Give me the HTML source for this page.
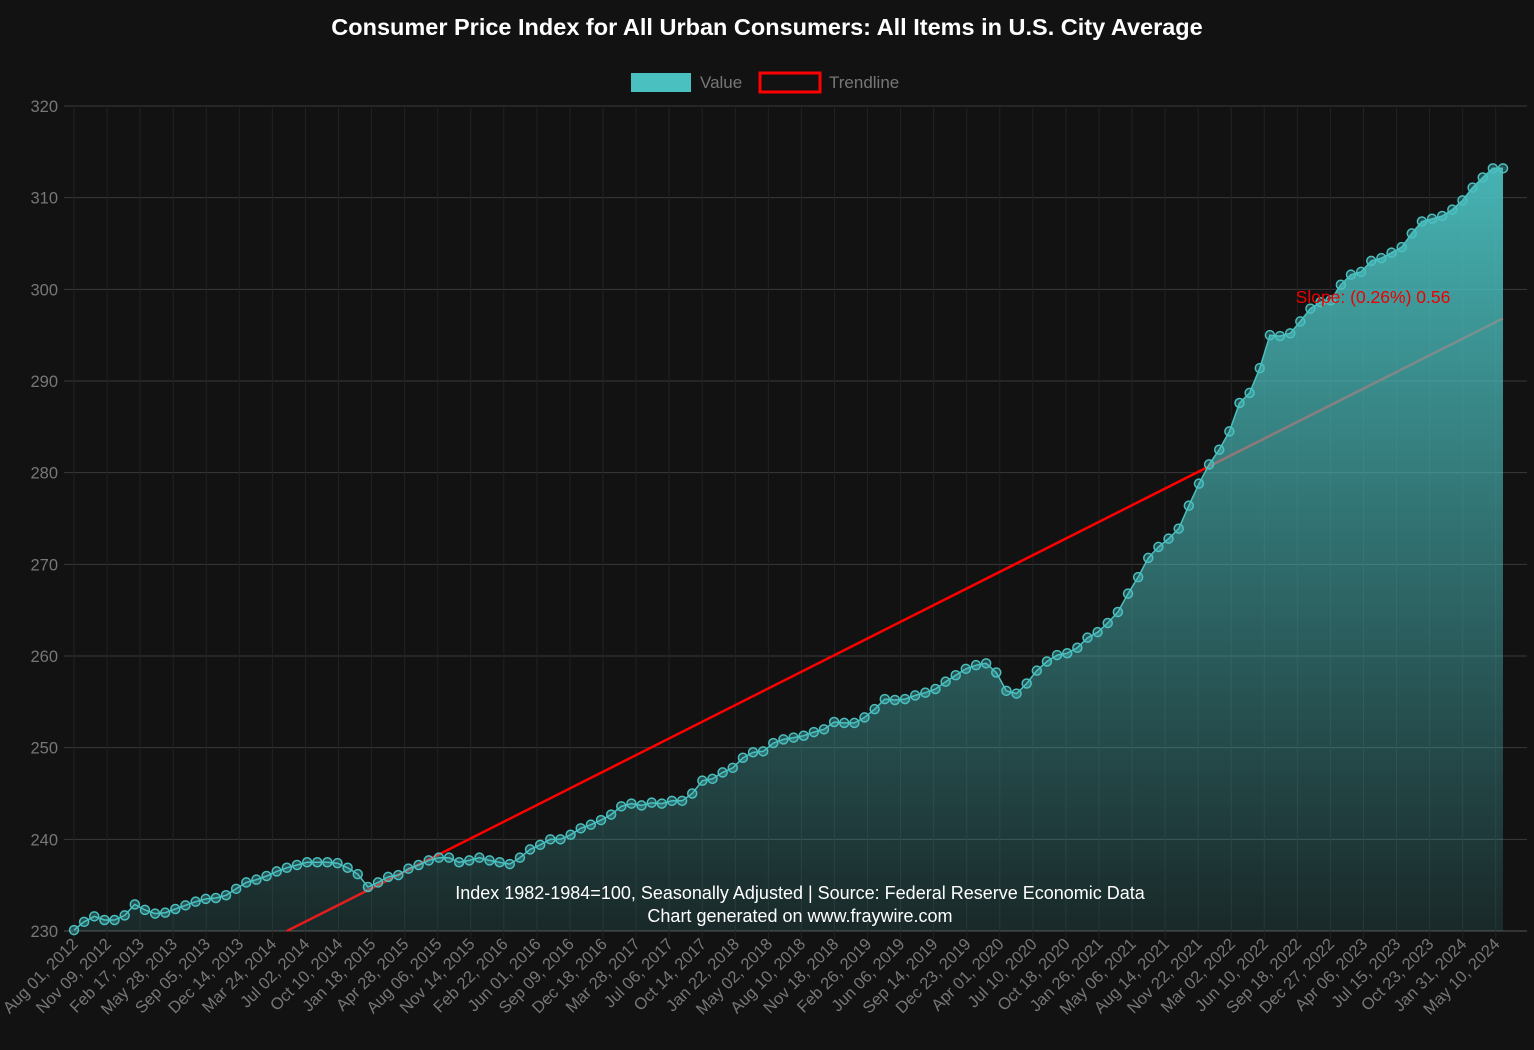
<!DOCTYPE html>
<html><head><meta charset="utf-8"><style>
body{margin:0;background:#121212;}
svg{display:block;font-family:"Liberation Sans",Arial,sans-serif;}
</style></head><body>
<svg id="chart" width="1534" height="1050">
<defs><linearGradient id="fillg" x1="0" y1="0" x2="0" y2="1">
<stop offset="0" stop-color="#4bc0c0" stop-opacity="0.92"/>
<stop offset="1" stop-color="#4bc0c0" stop-opacity="0.13"/>
</linearGradient></defs>
<rect width="1534" height="1050" fill="#121212"/>
<text x="767" y="35" text-anchor="middle" fill="#fff" font-size="23.5" font-weight="bold">Consumer Price Index for All Urban Consumers: All Items in U.S. City Average</text>
<g>
<rect x="631" y="73" width="60" height="19" fill="#4bc0c0"/>
<text x="700" y="88" fill="#777" font-size="17">Value</text>
<rect x="760" y="73" width="60" height="19" fill="none" stroke="#f00" stroke-width="3"/>
<text x="829" y="88" fill="#777" font-size="17">Trendline</text>
</g>
<g id="grid"></g><g id="trend"></g><g id="area"></g><g id="axes"></g>
<text x="1373" y="303" text-anchor="middle" fill="#e00" font-size="17.5">Slope: (0.26%) 0.56</text>
<text x="800" y="899" text-anchor="middle" fill="#fff" font-size="18">Index 1982-1984=100, Seasonally Adjusted | Source: Federal Reserve Economic Data</text>
<text x="800" y="922" text-anchor="middle" fill="#fff" font-size="18">Chart generated on www.fraywire.com</text>
</svg>
<script>
const values=[230.1,231.0,231.6,231.2,231.2,
231.7,232.9,232.3,231.9,232.0,232.4,232.8,233.2,233.5,233.6,233.9,234.6,
235.3,235.6,236.0,236.5,236.9,237.2,237.5,237.5,237.5,237.4,236.9,236.2,
234.8,235.3,235.9,236.1,236.8,237.2,237.7,238.0,238.0,237.5,237.7,238.0,
237.7,237.5,237.3,238.0,238.9,239.4,240.0,240.0,240.5,241.2,241.6,242.1,
242.7,243.6,243.9,243.7,244.0,243.9,244.2,244.2,245.0,246.4,246.6,247.3,
247.8,248.9,249.5,249.6,250.5,250.9,251.1,251.3,251.7,252.0,252.8,252.7,
252.7,253.3,254.2,255.3,255.2,255.3,255.7,256.0,256.4,257.2,257.9,258.6,
259.0,259.2,258.2,256.2,255.9,257.0,258.4,259.4,260.1,260.3,260.9,262.0,
262.6,263.6,264.8,266.8,268.6,270.7,271.9,272.8,273.9,276.4,278.8,280.9,
282.5,284.5,287.6,288.7,291.4,295.0,294.9,295.2,296.5,297.9,298.6,298.8,
300.5,301.6,301.9,303.1,303.4,304.0,304.6,306.1,307.4,307.7,308.0,308.7,
309.7,311.1,312.2,313.2,313.2];
const yTicks=[230,240,250,260,270,280,290,300,310,320];
const xLabels=["Aug 01, 2012","Nov 09, 2012","Feb 17, 2013","May 28, 2013","Sep 05, 2013","Dec 14, 2013","Mar 24, 2014","Jul 02, 2014","Oct 10, 2014","Jan 18, 2015","Apr 28, 2015","Aug 06, 2015","Nov 14, 2015","Feb 22, 2016","Jun 01, 2016","Sep 09, 2016","Dec 18, 2016","Mar 28, 2017","Jul 06, 2017","Oct 14, 2017","Jan 22, 2018","May 02, 2018","Aug 10, 2018","Nov 18, 2018","Feb 26, 2019","Jun 06, 2019","Sep 14, 2019","Dec 23, 2019","Apr 01, 2020","Jul 10, 2020","Oct 18, 2020","Jan 26, 2021","May 06, 2021","Aug 14, 2021","Nov 22, 2021","Mar 02, 2022","Jun 10, 2022","Sep 18, 2022","Dec 27, 2022","Apr 06, 2023","Jul 15, 2023","Oct 23, 2023","Jan 31, 2024","May 10, 2024"];
const trendStart=[218.3];
const trendSlope=[0.557];
const NS="http://www.w3.org/2000/svg";
const X0=74,X1=1503,Y0=931,Y1=106,VMIN=230,VMAX=320;
const n=values.length;
const xOf=i=>X0+(X1-X0)*i/(n-1);
const yOf=v=>Y0-(v-VMIN)/(VMAX-VMIN)*(Y0-Y1);
function mk(tag,attrs,parent){const e=document.createElementNS(NS,tag);for(const k in attrs)e.setAttribute(k,attrs[k]);parent.appendChild(e);return e;}
const grid=document.getElementById('grid'),axes=document.getElementById('axes'),area=document.getElementById('area'),trend=document.getElementById('trend');
yTicks.forEach(t=>{
 const y=yOf(t);
 const l=mk('line',{x1:64,x2:1527,y1:y,y2:y,stroke:t===230?'#555':'#3a3a3a','stroke-width':1},grid);
 
 
 const tx=mk('text',{x:58,y:y+6,'text-anchor':'end',fill:'#777','font-size':16.5},axes);
 tx.textContent=t;
 
 
});
const totalDays=4322;
xLabels.forEach((s,i)=>{
 const x=X0+(X1-X0)*(i*100)/totalDays;
 const l=mk('line',{x1:x,x2:x,y1:Y1,y2:Y0+8,stroke:'#222','stroke-width':1},grid);
 
 
 const tx=mk('text',{x:0,y:0,'text-anchor':'end',fill:'#777','font-size':16.5,transform:`translate(${x+5},${Y0+14}) rotate(-45)`},axes);
 tx.textContent=s;
 
 
});
const tv0=trendStart[0],tv1=trendStart[0]+trendSlope[0]*(n-1);
let xa=X0,va=tv0;
if(tv0<VMIN){const i0=(VMIN-tv0)/trendSlope[0];xa=xOf(i0);va=VMIN;}
const tl=mk('line',{x1:xa,y1:yOf(va),x2:xOf(n-1),y2:yOf(tv1),stroke:'#f00','stroke-width':2.5},trend);


let d='M'+xOf(0)+','+Y0;
values.forEach((v,i)=>{d+=' L'+xOf(i).toFixed(1)+','+yOf(v).toFixed(1);});
d+=' L'+xOf(n-1)+','+Y0+' Z';
const ap=mk('path',{d:d,fill:'url(#fillg)',stroke:'none'},area);


const lp=mk('polyline',{points:values.map((v,i)=>xOf(i).toFixed(1)+','+yOf(v).toFixed(1)).join(' '),fill:'none',stroke:'#4bc0c0','stroke-width':1.5},area);


values.forEach((v,i)=>{
 const c=mk('circle',{cx:xOf(i),cy:yOf(v),r:4.5,fill:'rgba(75,192,192,0.35)',stroke:'#4bc0c0','stroke-width':1.5},area);
 
 
});
</script>
</body></html>
